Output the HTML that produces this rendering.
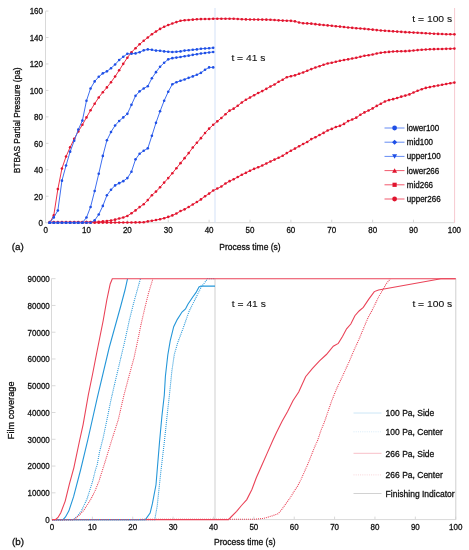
<!DOCTYPE html>
<html><head><meta charset="utf-8"><title>BTBAS partial pressure and film coverage</title>
<style>
html,body{margin:0;padding:0;background:#fff;}
body{width:469px;height:550px;overflow:hidden;}
svg{display:block;}
text{font-family:"Liberation Sans",Arial,sans-serif;fill:#111;stroke:#111;stroke-width:0.3px;}
.tk{font-size:8.7px;}
.tkb{font-size:9.2px;}
.lg{font-size:8.6px;}
.bl{font-size:9.1px;}
.ax{font-size:8.5px;}
.big{font-size:9.3px;stroke-width:0.1px;}
.big2{font-size:9.9px;stroke-width:0.3px;}
</style></head>
<body>
<svg width="469" height="550" viewBox="0 0 469 550">
<rect width="469" height="550" fill="#fff"/>
<line x1="45.5" y1="11.2" x2="45.5" y2="222.7" stroke="#d9d9d9" stroke-width="1"/>
<line x1="45.5" y1="222.7" x2="454.6" y2="222.7" stroke="#d9d9d9" stroke-width="1"/>
<line x1="45.5" y1="222.70" x2="48.5" y2="222.70" stroke="#d9d9d9" stroke-width="1"/>
<text x="43" y="226.10" class="tk" text-anchor="end" textLength="4.45" lengthAdjust="spacingAndGlyphs">0</text>
<line x1="45.5" y1="196.24" x2="48.5" y2="196.24" stroke="#d9d9d9" stroke-width="1"/>
<text x="43" y="199.64" class="tk" text-anchor="end" textLength="8.90" lengthAdjust="spacingAndGlyphs">20</text>
<line x1="45.5" y1="169.79" x2="48.5" y2="169.79" stroke="#d9d9d9" stroke-width="1"/>
<text x="43" y="173.19" class="tk" text-anchor="end" textLength="8.90" lengthAdjust="spacingAndGlyphs">40</text>
<line x1="45.5" y1="143.33" x2="48.5" y2="143.33" stroke="#d9d9d9" stroke-width="1"/>
<text x="43" y="146.73" class="tk" text-anchor="end" textLength="8.90" lengthAdjust="spacingAndGlyphs">60</text>
<line x1="45.5" y1="116.88" x2="48.5" y2="116.88" stroke="#d9d9d9" stroke-width="1"/>
<text x="43" y="120.28" class="tk" text-anchor="end" textLength="8.90" lengthAdjust="spacingAndGlyphs">80</text>
<line x1="45.5" y1="90.42" x2="48.5" y2="90.42" stroke="#d9d9d9" stroke-width="1"/>
<text x="43" y="93.82" class="tk" text-anchor="end" textLength="13.35" lengthAdjust="spacingAndGlyphs">100</text>
<line x1="45.5" y1="63.96" x2="48.5" y2="63.96" stroke="#d9d9d9" stroke-width="1"/>
<text x="43" y="67.36" class="tk" text-anchor="end" textLength="13.35" lengthAdjust="spacingAndGlyphs">120</text>
<line x1="45.5" y1="37.51" x2="48.5" y2="37.51" stroke="#d9d9d9" stroke-width="1"/>
<text x="43" y="40.91" class="tk" text-anchor="end" textLength="13.35" lengthAdjust="spacingAndGlyphs">140</text>
<line x1="45.5" y1="11.05" x2="48.5" y2="11.05" stroke="#d9d9d9" stroke-width="1"/>
<text x="43" y="14.45" class="tk" text-anchor="end" textLength="13.35" lengthAdjust="spacingAndGlyphs">160</text>
<line x1="45.60" y1="222.7" x2="45.60" y2="219.7" stroke="#d9d9d9" stroke-width="1"/>
<text x="45.60" y="232.8" class="tk" text-anchor="middle" textLength="4.45" lengthAdjust="spacingAndGlyphs">0</text>
<line x1="86.48" y1="222.7" x2="86.48" y2="219.7" stroke="#d9d9d9" stroke-width="1"/>
<text x="86.48" y="232.8" class="tk" text-anchor="middle" textLength="8.90" lengthAdjust="spacingAndGlyphs">10</text>
<line x1="127.36" y1="222.7" x2="127.36" y2="219.7" stroke="#d9d9d9" stroke-width="1"/>
<text x="127.36" y="232.8" class="tk" text-anchor="middle" textLength="8.90" lengthAdjust="spacingAndGlyphs">20</text>
<line x1="168.24" y1="222.7" x2="168.24" y2="219.7" stroke="#d9d9d9" stroke-width="1"/>
<text x="168.24" y="232.8" class="tk" text-anchor="middle" textLength="8.90" lengthAdjust="spacingAndGlyphs">30</text>
<line x1="209.12" y1="222.7" x2="209.12" y2="219.7" stroke="#d9d9d9" stroke-width="1"/>
<text x="209.12" y="232.8" class="tk" text-anchor="middle" textLength="8.90" lengthAdjust="spacingAndGlyphs">40</text>
<line x1="250.00" y1="222.7" x2="250.00" y2="219.7" stroke="#d9d9d9" stroke-width="1"/>
<text x="250.00" y="232.8" class="tk" text-anchor="middle" textLength="8.90" lengthAdjust="spacingAndGlyphs">50</text>
<line x1="290.88" y1="222.7" x2="290.88" y2="219.7" stroke="#d9d9d9" stroke-width="1"/>
<text x="290.88" y="232.8" class="tk" text-anchor="middle" textLength="8.90" lengthAdjust="spacingAndGlyphs">60</text>
<line x1="331.76" y1="222.7" x2="331.76" y2="219.7" stroke="#d9d9d9" stroke-width="1"/>
<text x="331.76" y="232.8" class="tk" text-anchor="middle" textLength="8.90" lengthAdjust="spacingAndGlyphs">70</text>
<line x1="372.64" y1="222.7" x2="372.64" y2="219.7" stroke="#d9d9d9" stroke-width="1"/>
<text x="372.64" y="232.8" class="tk" text-anchor="middle" textLength="8.90" lengthAdjust="spacingAndGlyphs">80</text>
<line x1="413.52" y1="222.7" x2="413.52" y2="219.7" stroke="#d9d9d9" stroke-width="1"/>
<text x="413.52" y="232.8" class="tk" text-anchor="middle" textLength="8.90" lengthAdjust="spacingAndGlyphs">90</text>
<line x1="454.40" y1="222.7" x2="454.40" y2="219.7" stroke="#d9d9d9" stroke-width="1"/>
<text x="454.40" y="232.8" class="tk" text-anchor="middle" textLength="13.35" lengthAdjust="spacingAndGlyphs">100</text>
<line x1="215" y1="8" x2="215" y2="222.7" stroke="#d3e1f7" stroke-width="1"/>
<line x1="454.6" y1="8" x2="454.6" y2="222.7" stroke="#f7c9d0" stroke-width="1"/>
<polyline points="49.69,222.70 53.78,222.70 57.86,222.70 61.95,222.70 66.04,222.70 70.13,222.69 74.22,222.69 78.30,222.68 82.39,222.68 86.48,222.67 90.57,222.66 94.66,222.65 98.74,222.63 102.83,222.62 106.92,222.60 111.01,222.58 115.10,222.55 119.18,222.53 123.27,222.50 127.36,222.47 131.45,222.43 135.54,222.39 139.62,222.35 143.71,222.30 147.80,221.38 151.89,220.72 155.98,220.05 160.06,219.26 164.15,218.20 168.24,216.88 172.33,215.42 176.42,213.57 180.50,211.06 184.59,209.34 188.68,206.96 192.77,204.45 196.86,202.06 200.94,199.42 205.03,196.24 209.12,193.60 213.21,190.56 217.30,188.57 221.38,186.46 225.47,183.55 229.56,181.16 233.65,179.31 237.74,177.06 241.82,174.81 245.91,172.83 250.00,170.71 254.09,168.86 258.18,167.27 262.26,165.56 266.35,163.44 270.44,161.45 274.53,159.60 278.62,157.75 282.70,155.77 286.79,153.12 290.88,150.74 294.97,148.62 299.06,146.24 303.14,143.99 307.23,142.01 311.32,139.10 315.41,137.25 319.50,135.00 323.58,132.88 327.67,130.50 331.76,128.91 335.85,127.06 339.94,125.87 344.02,123.89 348.11,121.11 352.20,119.52 356.29,117.67 360.38,114.76 364.46,112.38 368.55,110.53 372.64,108.41 376.73,105.90 380.82,103.78 384.90,101.53 388.99,100.08 393.08,99.15 397.17,97.96 401.26,96.64 405.34,95.58 409.43,94.39 413.52,92.54 417.61,90.82 421.70,89.23 425.78,87.91 429.87,87.11 433.96,86.32 438.05,85.53 442.14,84.73 446.22,83.94 450.31,83.28 454.40,82.62" fill="none" stroke="#ee3048" stroke-width="1"/>
<circle cx="49.69" cy="222.70" r="1.3" fill="#e0142e"/>
<circle cx="53.78" cy="222.70" r="1.3" fill="#e0142e"/>
<circle cx="57.86" cy="222.70" r="1.3" fill="#e0142e"/>
<circle cx="61.95" cy="222.70" r="1.3" fill="#e0142e"/>
<circle cx="66.04" cy="222.70" r="1.3" fill="#e0142e"/>
<circle cx="70.13" cy="222.69" r="1.3" fill="#e0142e"/>
<circle cx="74.22" cy="222.69" r="1.3" fill="#e0142e"/>
<circle cx="78.30" cy="222.68" r="1.3" fill="#e0142e"/>
<circle cx="82.39" cy="222.68" r="1.3" fill="#e0142e"/>
<circle cx="86.48" cy="222.67" r="1.3" fill="#e0142e"/>
<circle cx="90.57" cy="222.66" r="1.3" fill="#e0142e"/>
<circle cx="94.66" cy="222.65" r="1.3" fill="#e0142e"/>
<circle cx="98.74" cy="222.63" r="1.3" fill="#e0142e"/>
<circle cx="102.83" cy="222.62" r="1.3" fill="#e0142e"/>
<circle cx="106.92" cy="222.60" r="1.3" fill="#e0142e"/>
<circle cx="111.01" cy="222.58" r="1.3" fill="#e0142e"/>
<circle cx="115.10" cy="222.55" r="1.3" fill="#e0142e"/>
<circle cx="119.18" cy="222.53" r="1.3" fill="#e0142e"/>
<circle cx="123.27" cy="222.50" r="1.3" fill="#e0142e"/>
<circle cx="127.36" cy="222.47" r="1.3" fill="#e0142e"/>
<circle cx="131.45" cy="222.43" r="1.3" fill="#e0142e"/>
<circle cx="135.54" cy="222.39" r="1.3" fill="#e0142e"/>
<circle cx="139.62" cy="222.35" r="1.3" fill="#e0142e"/>
<circle cx="143.71" cy="222.30" r="1.3" fill="#e0142e"/>
<circle cx="147.80" cy="221.38" r="1.3" fill="#e0142e"/>
<circle cx="151.89" cy="220.72" r="1.3" fill="#e0142e"/>
<circle cx="155.98" cy="220.05" r="1.3" fill="#e0142e"/>
<circle cx="160.06" cy="219.26" r="1.3" fill="#e0142e"/>
<circle cx="164.15" cy="218.20" r="1.3" fill="#e0142e"/>
<circle cx="168.24" cy="216.88" r="1.3" fill="#e0142e"/>
<circle cx="172.33" cy="215.42" r="1.3" fill="#e0142e"/>
<circle cx="176.42" cy="213.57" r="1.3" fill="#e0142e"/>
<circle cx="180.50" cy="211.06" r="1.3" fill="#e0142e"/>
<circle cx="184.59" cy="209.34" r="1.3" fill="#e0142e"/>
<circle cx="188.68" cy="206.96" r="1.3" fill="#e0142e"/>
<circle cx="192.77" cy="204.45" r="1.3" fill="#e0142e"/>
<circle cx="196.86" cy="202.06" r="1.3" fill="#e0142e"/>
<circle cx="200.94" cy="199.42" r="1.3" fill="#e0142e"/>
<circle cx="205.03" cy="196.24" r="1.3" fill="#e0142e"/>
<circle cx="209.12" cy="193.60" r="1.3" fill="#e0142e"/>
<circle cx="213.21" cy="190.56" r="1.3" fill="#e0142e"/>
<circle cx="217.30" cy="188.57" r="1.3" fill="#e0142e"/>
<circle cx="221.38" cy="186.46" r="1.3" fill="#e0142e"/>
<circle cx="225.47" cy="183.55" r="1.3" fill="#e0142e"/>
<circle cx="229.56" cy="181.16" r="1.3" fill="#e0142e"/>
<circle cx="233.65" cy="179.31" r="1.3" fill="#e0142e"/>
<circle cx="237.74" cy="177.06" r="1.3" fill="#e0142e"/>
<circle cx="241.82" cy="174.81" r="1.3" fill="#e0142e"/>
<circle cx="245.91" cy="172.83" r="1.3" fill="#e0142e"/>
<circle cx="250.00" cy="170.71" r="1.3" fill="#e0142e"/>
<circle cx="254.09" cy="168.86" r="1.3" fill="#e0142e"/>
<circle cx="258.18" cy="167.27" r="1.3" fill="#e0142e"/>
<circle cx="262.26" cy="165.56" r="1.3" fill="#e0142e"/>
<circle cx="266.35" cy="163.44" r="1.3" fill="#e0142e"/>
<circle cx="270.44" cy="161.45" r="1.3" fill="#e0142e"/>
<circle cx="274.53" cy="159.60" r="1.3" fill="#e0142e"/>
<circle cx="278.62" cy="157.75" r="1.3" fill="#e0142e"/>
<circle cx="282.70" cy="155.77" r="1.3" fill="#e0142e"/>
<circle cx="286.79" cy="153.12" r="1.3" fill="#e0142e"/>
<circle cx="290.88" cy="150.74" r="1.3" fill="#e0142e"/>
<circle cx="294.97" cy="148.62" r="1.3" fill="#e0142e"/>
<circle cx="299.06" cy="146.24" r="1.3" fill="#e0142e"/>
<circle cx="303.14" cy="143.99" r="1.3" fill="#e0142e"/>
<circle cx="307.23" cy="142.01" r="1.3" fill="#e0142e"/>
<circle cx="311.32" cy="139.10" r="1.3" fill="#e0142e"/>
<circle cx="315.41" cy="137.25" r="1.3" fill="#e0142e"/>
<circle cx="319.50" cy="135.00" r="1.3" fill="#e0142e"/>
<circle cx="323.58" cy="132.88" r="1.3" fill="#e0142e"/>
<circle cx="327.67" cy="130.50" r="1.3" fill="#e0142e"/>
<circle cx="331.76" cy="128.91" r="1.3" fill="#e0142e"/>
<circle cx="335.85" cy="127.06" r="1.3" fill="#e0142e"/>
<circle cx="339.94" cy="125.87" r="1.3" fill="#e0142e"/>
<circle cx="344.02" cy="123.89" r="1.3" fill="#e0142e"/>
<circle cx="348.11" cy="121.11" r="1.3" fill="#e0142e"/>
<circle cx="352.20" cy="119.52" r="1.3" fill="#e0142e"/>
<circle cx="356.29" cy="117.67" r="1.3" fill="#e0142e"/>
<circle cx="360.38" cy="114.76" r="1.3" fill="#e0142e"/>
<circle cx="364.46" cy="112.38" r="1.3" fill="#e0142e"/>
<circle cx="368.55" cy="110.53" r="1.3" fill="#e0142e"/>
<circle cx="372.64" cy="108.41" r="1.3" fill="#e0142e"/>
<circle cx="376.73" cy="105.90" r="1.3" fill="#e0142e"/>
<circle cx="380.82" cy="103.78" r="1.3" fill="#e0142e"/>
<circle cx="384.90" cy="101.53" r="1.3" fill="#e0142e"/>
<circle cx="388.99" cy="100.08" r="1.3" fill="#e0142e"/>
<circle cx="393.08" cy="99.15" r="1.3" fill="#e0142e"/>
<circle cx="397.17" cy="97.96" r="1.3" fill="#e0142e"/>
<circle cx="401.26" cy="96.64" r="1.3" fill="#e0142e"/>
<circle cx="405.34" cy="95.58" r="1.3" fill="#e0142e"/>
<circle cx="409.43" cy="94.39" r="1.3" fill="#e0142e"/>
<circle cx="413.52" cy="92.54" r="1.3" fill="#e0142e"/>
<circle cx="417.61" cy="90.82" r="1.3" fill="#e0142e"/>
<circle cx="421.70" cy="89.23" r="1.3" fill="#e0142e"/>
<circle cx="425.78" cy="87.91" r="1.3" fill="#e0142e"/>
<circle cx="429.87" cy="87.11" r="1.3" fill="#e0142e"/>
<circle cx="433.96" cy="86.32" r="1.3" fill="#e0142e"/>
<circle cx="438.05" cy="85.53" r="1.3" fill="#e0142e"/>
<circle cx="442.14" cy="84.73" r="1.3" fill="#e0142e"/>
<circle cx="446.22" cy="83.94" r="1.3" fill="#e0142e"/>
<circle cx="450.31" cy="83.28" r="1.3" fill="#e0142e"/>
<circle cx="454.40" cy="82.62" r="1.3" fill="#e0142e"/>
<polyline points="49.69,222.04 53.78,222.04 57.86,222.04 61.95,222.03 66.04,222.03 70.13,222.02 74.22,222.02 78.30,222.01 82.39,221.99 86.48,221.98 90.57,221.96 94.66,221.93 98.74,221.91 102.83,221.38 106.92,220.98 111.01,220.45 115.10,219.66 119.18,218.47 123.27,217.54 127.36,215.95 131.45,213.18 135.54,210.40 139.62,207.09 143.71,204.18 147.80,200.08 151.89,195.19 155.98,191.61 160.06,187.25 164.15,182.62 168.24,178.12 172.33,173.23 176.42,168.20 180.50,163.17 184.59,158.15 188.68,153.12 192.77,147.56 196.86,142.80 200.94,138.17 205.03,133.01 209.12,128.65 213.21,124.81 217.30,121.37 221.38,117.93 225.47,114.23 229.56,110.66 233.65,108.67 237.74,105.76 241.82,102.46 245.91,99.81 250.00,97.56 254.09,95.18 258.18,93.07 262.26,91.08 266.35,88.83 270.44,86.45 274.53,84.47 278.62,81.82 282.70,79.71 286.79,77.19 290.88,76.27 294.97,75.34 299.06,73.75 303.14,72.43 307.23,70.71 311.32,69.12 315.41,67.54 319.50,66.21 323.58,64.76 327.67,63.43 331.76,62.77 335.85,61.72 339.94,60.79 344.02,60.00 348.11,59.33 352.20,58.54 356.29,57.75 360.38,56.69 364.46,55.76 368.55,55.23 372.64,54.57 376.73,53.50 380.82,52.69 384.90,52.28 388.99,51.90 393.08,51.51 397.17,51.35 401.26,51.29 405.34,51.16 409.43,50.92 413.52,50.56 417.61,50.11 421.70,49.80 425.78,49.55 429.87,49.29 433.96,49.13 438.05,49.07 442.14,48.98 446.22,48.83 450.31,48.71 454.40,48.62" fill="none" stroke="#ee3048" stroke-width="1"/>
<circle cx="49.69" cy="222.04" r="1.3" fill="#e0142e"/>
<circle cx="53.78" cy="222.04" r="1.3" fill="#e0142e"/>
<circle cx="57.86" cy="222.04" r="1.3" fill="#e0142e"/>
<circle cx="61.95" cy="222.03" r="1.3" fill="#e0142e"/>
<circle cx="66.04" cy="222.03" r="1.3" fill="#e0142e"/>
<circle cx="70.13" cy="222.02" r="1.3" fill="#e0142e"/>
<circle cx="74.22" cy="222.02" r="1.3" fill="#e0142e"/>
<circle cx="78.30" cy="222.01" r="1.3" fill="#e0142e"/>
<circle cx="82.39" cy="221.99" r="1.3" fill="#e0142e"/>
<circle cx="86.48" cy="221.98" r="1.3" fill="#e0142e"/>
<circle cx="90.57" cy="221.96" r="1.3" fill="#e0142e"/>
<circle cx="94.66" cy="221.93" r="1.3" fill="#e0142e"/>
<circle cx="98.74" cy="221.91" r="1.3" fill="#e0142e"/>
<circle cx="102.83" cy="221.38" r="1.3" fill="#e0142e"/>
<circle cx="106.92" cy="220.98" r="1.3" fill="#e0142e"/>
<circle cx="111.01" cy="220.45" r="1.3" fill="#e0142e"/>
<circle cx="115.10" cy="219.66" r="1.3" fill="#e0142e"/>
<circle cx="119.18" cy="218.47" r="1.3" fill="#e0142e"/>
<circle cx="123.27" cy="217.54" r="1.3" fill="#e0142e"/>
<circle cx="127.36" cy="215.95" r="1.3" fill="#e0142e"/>
<circle cx="131.45" cy="213.18" r="1.3" fill="#e0142e"/>
<circle cx="135.54" cy="210.40" r="1.3" fill="#e0142e"/>
<circle cx="139.62" cy="207.09" r="1.3" fill="#e0142e"/>
<circle cx="143.71" cy="204.18" r="1.3" fill="#e0142e"/>
<circle cx="147.80" cy="200.08" r="1.3" fill="#e0142e"/>
<circle cx="151.89" cy="195.19" r="1.3" fill="#e0142e"/>
<circle cx="155.98" cy="191.61" r="1.3" fill="#e0142e"/>
<circle cx="160.06" cy="187.25" r="1.3" fill="#e0142e"/>
<circle cx="164.15" cy="182.62" r="1.3" fill="#e0142e"/>
<circle cx="168.24" cy="178.12" r="1.3" fill="#e0142e"/>
<circle cx="172.33" cy="173.23" r="1.3" fill="#e0142e"/>
<circle cx="176.42" cy="168.20" r="1.3" fill="#e0142e"/>
<circle cx="180.50" cy="163.17" r="1.3" fill="#e0142e"/>
<circle cx="184.59" cy="158.15" r="1.3" fill="#e0142e"/>
<circle cx="188.68" cy="153.12" r="1.3" fill="#e0142e"/>
<circle cx="192.77" cy="147.56" r="1.3" fill="#e0142e"/>
<circle cx="196.86" cy="142.80" r="1.3" fill="#e0142e"/>
<circle cx="200.94" cy="138.17" r="1.3" fill="#e0142e"/>
<circle cx="205.03" cy="133.01" r="1.3" fill="#e0142e"/>
<circle cx="209.12" cy="128.65" r="1.3" fill="#e0142e"/>
<circle cx="213.21" cy="124.81" r="1.3" fill="#e0142e"/>
<circle cx="217.30" cy="121.37" r="1.3" fill="#e0142e"/>
<circle cx="221.38" cy="117.93" r="1.3" fill="#e0142e"/>
<circle cx="225.47" cy="114.23" r="1.3" fill="#e0142e"/>
<circle cx="229.56" cy="110.66" r="1.3" fill="#e0142e"/>
<circle cx="233.65" cy="108.67" r="1.3" fill="#e0142e"/>
<circle cx="237.74" cy="105.76" r="1.3" fill="#e0142e"/>
<circle cx="241.82" cy="102.46" r="1.3" fill="#e0142e"/>
<circle cx="245.91" cy="99.81" r="1.3" fill="#e0142e"/>
<circle cx="250.00" cy="97.56" r="1.3" fill="#e0142e"/>
<circle cx="254.09" cy="95.18" r="1.3" fill="#e0142e"/>
<circle cx="258.18" cy="93.07" r="1.3" fill="#e0142e"/>
<circle cx="262.26" cy="91.08" r="1.3" fill="#e0142e"/>
<circle cx="266.35" cy="88.83" r="1.3" fill="#e0142e"/>
<circle cx="270.44" cy="86.45" r="1.3" fill="#e0142e"/>
<circle cx="274.53" cy="84.47" r="1.3" fill="#e0142e"/>
<circle cx="278.62" cy="81.82" r="1.3" fill="#e0142e"/>
<circle cx="282.70" cy="79.71" r="1.3" fill="#e0142e"/>
<circle cx="286.79" cy="77.19" r="1.3" fill="#e0142e"/>
<circle cx="290.88" cy="76.27" r="1.3" fill="#e0142e"/>
<circle cx="294.97" cy="75.34" r="1.3" fill="#e0142e"/>
<circle cx="299.06" cy="73.75" r="1.3" fill="#e0142e"/>
<circle cx="303.14" cy="72.43" r="1.3" fill="#e0142e"/>
<circle cx="307.23" cy="70.71" r="1.3" fill="#e0142e"/>
<circle cx="311.32" cy="69.12" r="1.3" fill="#e0142e"/>
<circle cx="315.41" cy="67.54" r="1.3" fill="#e0142e"/>
<circle cx="319.50" cy="66.21" r="1.3" fill="#e0142e"/>
<circle cx="323.58" cy="64.76" r="1.3" fill="#e0142e"/>
<circle cx="327.67" cy="63.43" r="1.3" fill="#e0142e"/>
<circle cx="331.76" cy="62.77" r="1.3" fill="#e0142e"/>
<circle cx="335.85" cy="61.72" r="1.3" fill="#e0142e"/>
<circle cx="339.94" cy="60.79" r="1.3" fill="#e0142e"/>
<circle cx="344.02" cy="60.00" r="1.3" fill="#e0142e"/>
<circle cx="348.11" cy="59.33" r="1.3" fill="#e0142e"/>
<circle cx="352.20" cy="58.54" r="1.3" fill="#e0142e"/>
<circle cx="356.29" cy="57.75" r="1.3" fill="#e0142e"/>
<circle cx="360.38" cy="56.69" r="1.3" fill="#e0142e"/>
<circle cx="364.46" cy="55.76" r="1.3" fill="#e0142e"/>
<circle cx="368.55" cy="55.23" r="1.3" fill="#e0142e"/>
<circle cx="372.64" cy="54.57" r="1.3" fill="#e0142e"/>
<circle cx="376.73" cy="53.50" r="1.3" fill="#e0142e"/>
<circle cx="380.82" cy="52.69" r="1.3" fill="#e0142e"/>
<circle cx="384.90" cy="52.28" r="1.3" fill="#e0142e"/>
<circle cx="388.99" cy="51.90" r="1.3" fill="#e0142e"/>
<circle cx="393.08" cy="51.51" r="1.3" fill="#e0142e"/>
<circle cx="397.17" cy="51.35" r="1.3" fill="#e0142e"/>
<circle cx="401.26" cy="51.29" r="1.3" fill="#e0142e"/>
<circle cx="405.34" cy="51.16" r="1.3" fill="#e0142e"/>
<circle cx="409.43" cy="50.92" r="1.3" fill="#e0142e"/>
<circle cx="413.52" cy="50.56" r="1.3" fill="#e0142e"/>
<circle cx="417.61" cy="50.11" r="1.3" fill="#e0142e"/>
<circle cx="421.70" cy="49.80" r="1.3" fill="#e0142e"/>
<circle cx="425.78" cy="49.55" r="1.3" fill="#e0142e"/>
<circle cx="429.87" cy="49.29" r="1.3" fill="#e0142e"/>
<circle cx="433.96" cy="49.13" r="1.3" fill="#e0142e"/>
<circle cx="438.05" cy="49.07" r="1.3" fill="#e0142e"/>
<circle cx="442.14" cy="48.98" r="1.3" fill="#e0142e"/>
<circle cx="446.22" cy="48.83" r="1.3" fill="#e0142e"/>
<circle cx="450.31" cy="48.71" r="1.3" fill="#e0142e"/>
<circle cx="454.40" cy="48.62" r="1.3" fill="#e0142e"/>
<polyline points="49.69,222.70 53.78,215.42 57.86,189.10 61.95,168.47 66.04,156.56 70.13,147.30 74.22,138.83 78.30,131.43 82.39,124.81 86.48,117.41 90.57,110.26 94.66,103.78 98.74,97.43 102.83,92.27 106.92,87.38 111.01,82.22 115.10,76.53 119.18,70.31 123.27,63.83 127.36,57.75 131.45,52.19 135.54,48.22 139.62,44.25 143.71,40.81 147.80,37.51 151.89,34.20 155.98,31.56 160.06,28.91 164.15,26.79 168.24,25.05 172.33,23.52 176.42,22.10 180.50,20.82 184.59,20.23 188.68,19.95 192.77,19.64 196.86,19.28 200.94,19.09 205.03,19.04 209.12,18.97 213.21,18.81 217.30,18.72 221.38,18.72 225.47,18.72 229.56,18.72 233.65,18.80 237.74,18.98 241.82,19.20 245.91,19.40 250.00,19.52 254.09,19.56 258.18,19.58 262.26,19.61 266.35,19.65 270.44,19.80 274.53,20.06 278.62,20.35 282.70,20.58 286.79,20.69 290.88,20.84 294.97,21.36 299.06,22.50 303.14,23.21 307.23,23.38 311.32,23.67 315.41,24.16 319.50,24.63 323.58,25.02 327.67,25.39 331.76,25.79 335.85,26.19 339.94,26.62 344.02,27.07 348.11,27.49 352.20,27.85 356.29,28.18 360.38,28.51 364.46,28.83 368.55,29.20 372.64,29.64 376.73,30.08 380.82,30.44 384.90,30.76 388.99,31.06 393.08,31.34 397.17,31.61 401.26,31.87 405.34,32.13 409.43,32.37 413.52,32.59 417.61,32.80 421.70,33.01 425.78,33.21 429.87,33.43 433.96,33.68 438.05,33.90 442.14,34.07 446.22,34.19 450.31,34.28 454.40,34.33" fill="none" stroke="#ee3048" stroke-width="1"/>
<circle cx="49.69" cy="222.70" r="1.3" fill="#e0142e"/>
<circle cx="53.78" cy="215.42" r="1.3" fill="#e0142e"/>
<circle cx="57.86" cy="189.10" r="1.3" fill="#e0142e"/>
<circle cx="61.95" cy="168.47" r="1.3" fill="#e0142e"/>
<circle cx="66.04" cy="156.56" r="1.3" fill="#e0142e"/>
<circle cx="70.13" cy="147.30" r="1.3" fill="#e0142e"/>
<circle cx="74.22" cy="138.83" r="1.3" fill="#e0142e"/>
<circle cx="78.30" cy="131.43" r="1.3" fill="#e0142e"/>
<circle cx="82.39" cy="124.81" r="1.3" fill="#e0142e"/>
<circle cx="86.48" cy="117.41" r="1.3" fill="#e0142e"/>
<circle cx="90.57" cy="110.26" r="1.3" fill="#e0142e"/>
<circle cx="94.66" cy="103.78" r="1.3" fill="#e0142e"/>
<circle cx="98.74" cy="97.43" r="1.3" fill="#e0142e"/>
<circle cx="102.83" cy="92.27" r="1.3" fill="#e0142e"/>
<circle cx="106.92" cy="87.38" r="1.3" fill="#e0142e"/>
<circle cx="111.01" cy="82.22" r="1.3" fill="#e0142e"/>
<circle cx="115.10" cy="76.53" r="1.3" fill="#e0142e"/>
<circle cx="119.18" cy="70.31" r="1.3" fill="#e0142e"/>
<circle cx="123.27" cy="63.83" r="1.3" fill="#e0142e"/>
<circle cx="127.36" cy="57.75" r="1.3" fill="#e0142e"/>
<circle cx="131.45" cy="52.19" r="1.3" fill="#e0142e"/>
<circle cx="135.54" cy="48.22" r="1.3" fill="#e0142e"/>
<circle cx="139.62" cy="44.25" r="1.3" fill="#e0142e"/>
<circle cx="143.71" cy="40.81" r="1.3" fill="#e0142e"/>
<circle cx="147.80" cy="37.51" r="1.3" fill="#e0142e"/>
<circle cx="151.89" cy="34.20" r="1.3" fill="#e0142e"/>
<circle cx="155.98" cy="31.56" r="1.3" fill="#e0142e"/>
<circle cx="160.06" cy="28.91" r="1.3" fill="#e0142e"/>
<circle cx="164.15" cy="26.79" r="1.3" fill="#e0142e"/>
<circle cx="168.24" cy="25.05" r="1.3" fill="#e0142e"/>
<circle cx="172.33" cy="23.52" r="1.3" fill="#e0142e"/>
<circle cx="176.42" cy="22.10" r="1.3" fill="#e0142e"/>
<circle cx="180.50" cy="20.82" r="1.3" fill="#e0142e"/>
<circle cx="184.59" cy="20.23" r="1.3" fill="#e0142e"/>
<circle cx="188.68" cy="19.95" r="1.3" fill="#e0142e"/>
<circle cx="192.77" cy="19.64" r="1.3" fill="#e0142e"/>
<circle cx="196.86" cy="19.28" r="1.3" fill="#e0142e"/>
<circle cx="200.94" cy="19.09" r="1.3" fill="#e0142e"/>
<circle cx="205.03" cy="19.04" r="1.3" fill="#e0142e"/>
<circle cx="209.12" cy="18.97" r="1.3" fill="#e0142e"/>
<circle cx="213.21" cy="18.81" r="1.3" fill="#e0142e"/>
<circle cx="217.30" cy="18.72" r="1.3" fill="#e0142e"/>
<circle cx="221.38" cy="18.72" r="1.3" fill="#e0142e"/>
<circle cx="225.47" cy="18.72" r="1.3" fill="#e0142e"/>
<circle cx="229.56" cy="18.72" r="1.3" fill="#e0142e"/>
<circle cx="233.65" cy="18.80" r="1.3" fill="#e0142e"/>
<circle cx="237.74" cy="18.98" r="1.3" fill="#e0142e"/>
<circle cx="241.82" cy="19.20" r="1.3" fill="#e0142e"/>
<circle cx="245.91" cy="19.40" r="1.3" fill="#e0142e"/>
<circle cx="250.00" cy="19.52" r="1.3" fill="#e0142e"/>
<circle cx="254.09" cy="19.56" r="1.3" fill="#e0142e"/>
<circle cx="258.18" cy="19.58" r="1.3" fill="#e0142e"/>
<circle cx="262.26" cy="19.61" r="1.3" fill="#e0142e"/>
<circle cx="266.35" cy="19.65" r="1.3" fill="#e0142e"/>
<circle cx="270.44" cy="19.80" r="1.3" fill="#e0142e"/>
<circle cx="274.53" cy="20.06" r="1.3" fill="#e0142e"/>
<circle cx="278.62" cy="20.35" r="1.3" fill="#e0142e"/>
<circle cx="282.70" cy="20.58" r="1.3" fill="#e0142e"/>
<circle cx="286.79" cy="20.69" r="1.3" fill="#e0142e"/>
<circle cx="290.88" cy="20.84" r="1.3" fill="#e0142e"/>
<circle cx="294.97" cy="21.36" r="1.3" fill="#e0142e"/>
<circle cx="299.06" cy="22.50" r="1.3" fill="#e0142e"/>
<circle cx="303.14" cy="23.21" r="1.3" fill="#e0142e"/>
<circle cx="307.23" cy="23.38" r="1.3" fill="#e0142e"/>
<circle cx="311.32" cy="23.67" r="1.3" fill="#e0142e"/>
<circle cx="315.41" cy="24.16" r="1.3" fill="#e0142e"/>
<circle cx="319.50" cy="24.63" r="1.3" fill="#e0142e"/>
<circle cx="323.58" cy="25.02" r="1.3" fill="#e0142e"/>
<circle cx="327.67" cy="25.39" r="1.3" fill="#e0142e"/>
<circle cx="331.76" cy="25.79" r="1.3" fill="#e0142e"/>
<circle cx="335.85" cy="26.19" r="1.3" fill="#e0142e"/>
<circle cx="339.94" cy="26.62" r="1.3" fill="#e0142e"/>
<circle cx="344.02" cy="27.07" r="1.3" fill="#e0142e"/>
<circle cx="348.11" cy="27.49" r="1.3" fill="#e0142e"/>
<circle cx="352.20" cy="27.85" r="1.3" fill="#e0142e"/>
<circle cx="356.29" cy="28.18" r="1.3" fill="#e0142e"/>
<circle cx="360.38" cy="28.51" r="1.3" fill="#e0142e"/>
<circle cx="364.46" cy="28.83" r="1.3" fill="#e0142e"/>
<circle cx="368.55" cy="29.20" r="1.3" fill="#e0142e"/>
<circle cx="372.64" cy="29.64" r="1.3" fill="#e0142e"/>
<circle cx="376.73" cy="30.08" r="1.3" fill="#e0142e"/>
<circle cx="380.82" cy="30.44" r="1.3" fill="#e0142e"/>
<circle cx="384.90" cy="30.76" r="1.3" fill="#e0142e"/>
<circle cx="388.99" cy="31.06" r="1.3" fill="#e0142e"/>
<circle cx="393.08" cy="31.34" r="1.3" fill="#e0142e"/>
<circle cx="397.17" cy="31.61" r="1.3" fill="#e0142e"/>
<circle cx="401.26" cy="31.87" r="1.3" fill="#e0142e"/>
<circle cx="405.34" cy="32.13" r="1.3" fill="#e0142e"/>
<circle cx="409.43" cy="32.37" r="1.3" fill="#e0142e"/>
<circle cx="413.52" cy="32.59" r="1.3" fill="#e0142e"/>
<circle cx="417.61" cy="32.80" r="1.3" fill="#e0142e"/>
<circle cx="421.70" cy="33.01" r="1.3" fill="#e0142e"/>
<circle cx="425.78" cy="33.21" r="1.3" fill="#e0142e"/>
<circle cx="429.87" cy="33.43" r="1.3" fill="#e0142e"/>
<circle cx="433.96" cy="33.68" r="1.3" fill="#e0142e"/>
<circle cx="438.05" cy="33.90" r="1.3" fill="#e0142e"/>
<circle cx="442.14" cy="34.07" r="1.3" fill="#e0142e"/>
<circle cx="446.22" cy="34.19" r="1.3" fill="#e0142e"/>
<circle cx="450.31" cy="34.28" r="1.3" fill="#e0142e"/>
<circle cx="454.40" cy="34.33" r="1.3" fill="#e0142e"/>
<polyline points="49.69,222.70 53.78,222.70 57.86,222.70 61.95,222.70 66.04,222.70 70.13,222.70 74.22,222.70 78.30,222.70 82.39,222.70 86.48,222.70 90.57,222.70 94.66,220.32 98.74,214.50 102.83,205.90 106.92,195.32 111.01,189.76 115.10,185.40 119.18,183.15 123.27,181.16 127.36,178.12 131.45,171.77 135.54,159.34 139.62,153.78 143.71,150.74 147.80,148.36 151.89,135.79 155.98,122.83 160.06,111.32 164.15,100.74 168.24,91.74 172.33,84.20 176.42,82.22 180.50,80.76 184.59,79.44 188.68,77.85 192.77,76.40 196.86,74.81 200.94,72.83 205.03,69.78 209.12,67.40 213.21,67.40" fill="none" stroke="#3f6ff0" stroke-width="1"/>
<circle cx="49.69" cy="222.70" r="1.3" fill="#1f4fe6"/>
<circle cx="53.78" cy="222.70" r="1.3" fill="#1f4fe6"/>
<circle cx="57.86" cy="222.70" r="1.3" fill="#1f4fe6"/>
<circle cx="61.95" cy="222.70" r="1.3" fill="#1f4fe6"/>
<circle cx="66.04" cy="222.70" r="1.3" fill="#1f4fe6"/>
<circle cx="70.13" cy="222.70" r="1.3" fill="#1f4fe6"/>
<circle cx="74.22" cy="222.70" r="1.3" fill="#1f4fe6"/>
<circle cx="78.30" cy="222.70" r="1.3" fill="#1f4fe6"/>
<circle cx="82.39" cy="222.70" r="1.3" fill="#1f4fe6"/>
<circle cx="86.48" cy="222.70" r="1.3" fill="#1f4fe6"/>
<circle cx="90.57" cy="222.70" r="1.3" fill="#1f4fe6"/>
<circle cx="94.66" cy="220.32" r="1.3" fill="#1f4fe6"/>
<circle cx="98.74" cy="214.50" r="1.3" fill="#1f4fe6"/>
<circle cx="102.83" cy="205.90" r="1.3" fill="#1f4fe6"/>
<circle cx="106.92" cy="195.32" r="1.3" fill="#1f4fe6"/>
<circle cx="111.01" cy="189.76" r="1.3" fill="#1f4fe6"/>
<circle cx="115.10" cy="185.40" r="1.3" fill="#1f4fe6"/>
<circle cx="119.18" cy="183.15" r="1.3" fill="#1f4fe6"/>
<circle cx="123.27" cy="181.16" r="1.3" fill="#1f4fe6"/>
<circle cx="127.36" cy="178.12" r="1.3" fill="#1f4fe6"/>
<circle cx="131.45" cy="171.77" r="1.3" fill="#1f4fe6"/>
<circle cx="135.54" cy="159.34" r="1.3" fill="#1f4fe6"/>
<circle cx="139.62" cy="153.78" r="1.3" fill="#1f4fe6"/>
<circle cx="143.71" cy="150.74" r="1.3" fill="#1f4fe6"/>
<circle cx="147.80" cy="148.36" r="1.3" fill="#1f4fe6"/>
<circle cx="151.89" cy="135.79" r="1.3" fill="#1f4fe6"/>
<circle cx="155.98" cy="122.83" r="1.3" fill="#1f4fe6"/>
<circle cx="160.06" cy="111.32" r="1.3" fill="#1f4fe6"/>
<circle cx="164.15" cy="100.74" r="1.3" fill="#1f4fe6"/>
<circle cx="168.24" cy="91.74" r="1.3" fill="#1f4fe6"/>
<circle cx="172.33" cy="84.20" r="1.3" fill="#1f4fe6"/>
<circle cx="176.42" cy="82.22" r="1.3" fill="#1f4fe6"/>
<circle cx="180.50" cy="80.76" r="1.3" fill="#1f4fe6"/>
<circle cx="184.59" cy="79.44" r="1.3" fill="#1f4fe6"/>
<circle cx="188.68" cy="77.85" r="1.3" fill="#1f4fe6"/>
<circle cx="192.77" cy="76.40" r="1.3" fill="#1f4fe6"/>
<circle cx="196.86" cy="74.81" r="1.3" fill="#1f4fe6"/>
<circle cx="200.94" cy="72.83" r="1.3" fill="#1f4fe6"/>
<circle cx="205.03" cy="69.78" r="1.3" fill="#1f4fe6"/>
<circle cx="209.12" cy="67.40" r="1.3" fill="#1f4fe6"/>
<circle cx="213.21" cy="67.40" r="1.3" fill="#1f4fe6"/>
<polyline points="49.69,222.70 53.78,222.70 57.86,222.70 61.95,222.70 66.04,222.70 70.13,222.70 74.22,222.70 78.30,222.70 82.39,222.70 86.48,217.54 90.57,206.96 94.66,190.95 98.74,173.76 102.83,155.90 106.92,140.29 111.01,131.96 115.10,125.47 119.18,120.98 123.27,117.41 127.36,113.83 131.45,104.84 135.54,95.84 139.62,91.35 143.71,88.44 147.80,86.19 151.89,78.25 155.98,72.17 160.06,66.74 164.15,62.77 168.24,59.33 172.33,58.14 176.42,57.61 180.50,56.95 184.59,56.29 188.68,55.63 192.77,54.84 196.86,54.18 200.94,53.51 205.03,52.98 209.12,52.46 213.21,51.93" fill="none" stroke="#3f6ff0" stroke-width="1"/>
<circle cx="49.69" cy="222.70" r="1.3" fill="#1f4fe6"/>
<circle cx="53.78" cy="222.70" r="1.3" fill="#1f4fe6"/>
<circle cx="57.86" cy="222.70" r="1.3" fill="#1f4fe6"/>
<circle cx="61.95" cy="222.70" r="1.3" fill="#1f4fe6"/>
<circle cx="66.04" cy="222.70" r="1.3" fill="#1f4fe6"/>
<circle cx="70.13" cy="222.70" r="1.3" fill="#1f4fe6"/>
<circle cx="74.22" cy="222.70" r="1.3" fill="#1f4fe6"/>
<circle cx="78.30" cy="222.70" r="1.3" fill="#1f4fe6"/>
<circle cx="82.39" cy="222.70" r="1.3" fill="#1f4fe6"/>
<circle cx="86.48" cy="217.54" r="1.3" fill="#1f4fe6"/>
<circle cx="90.57" cy="206.96" r="1.3" fill="#1f4fe6"/>
<circle cx="94.66" cy="190.95" r="1.3" fill="#1f4fe6"/>
<circle cx="98.74" cy="173.76" r="1.3" fill="#1f4fe6"/>
<circle cx="102.83" cy="155.90" r="1.3" fill="#1f4fe6"/>
<circle cx="106.92" cy="140.29" r="1.3" fill="#1f4fe6"/>
<circle cx="111.01" cy="131.96" r="1.3" fill="#1f4fe6"/>
<circle cx="115.10" cy="125.47" r="1.3" fill="#1f4fe6"/>
<circle cx="119.18" cy="120.98" r="1.3" fill="#1f4fe6"/>
<circle cx="123.27" cy="117.41" r="1.3" fill="#1f4fe6"/>
<circle cx="127.36" cy="113.83" r="1.3" fill="#1f4fe6"/>
<circle cx="131.45" cy="104.84" r="1.3" fill="#1f4fe6"/>
<circle cx="135.54" cy="95.84" r="1.3" fill="#1f4fe6"/>
<circle cx="139.62" cy="91.35" r="1.3" fill="#1f4fe6"/>
<circle cx="143.71" cy="88.44" r="1.3" fill="#1f4fe6"/>
<circle cx="147.80" cy="86.19" r="1.3" fill="#1f4fe6"/>
<circle cx="151.89" cy="78.25" r="1.3" fill="#1f4fe6"/>
<circle cx="155.98" cy="72.17" r="1.3" fill="#1f4fe6"/>
<circle cx="160.06" cy="66.74" r="1.3" fill="#1f4fe6"/>
<circle cx="164.15" cy="62.77" r="1.3" fill="#1f4fe6"/>
<circle cx="168.24" cy="59.33" r="1.3" fill="#1f4fe6"/>
<circle cx="172.33" cy="58.14" r="1.3" fill="#1f4fe6"/>
<circle cx="176.42" cy="57.61" r="1.3" fill="#1f4fe6"/>
<circle cx="180.50" cy="56.95" r="1.3" fill="#1f4fe6"/>
<circle cx="184.59" cy="56.29" r="1.3" fill="#1f4fe6"/>
<circle cx="188.68" cy="55.63" r="1.3" fill="#1f4fe6"/>
<circle cx="192.77" cy="54.84" r="1.3" fill="#1f4fe6"/>
<circle cx="196.86" cy="54.18" r="1.3" fill="#1f4fe6"/>
<circle cx="200.94" cy="53.51" r="1.3" fill="#1f4fe6"/>
<circle cx="205.03" cy="52.98" r="1.3" fill="#1f4fe6"/>
<circle cx="209.12" cy="52.46" r="1.3" fill="#1f4fe6"/>
<circle cx="213.21" cy="51.93" r="1.3" fill="#1f4fe6"/>
<polyline points="49.69,222.70 53.78,217.41 57.86,210.53 61.95,180.63 66.04,165.56 70.13,151.67 74.22,140.69 78.30,129.57 82.39,120.58 86.48,100.74 90.57,88.44 94.66,81.42 98.74,76.80 102.83,73.36 106.92,71.37 111.01,68.20 115.10,64.49 119.18,60.00 123.27,56.82 127.36,53.78 131.45,53.78 135.54,53.38 139.62,52.19 143.71,50.34 147.80,49.41 151.89,49.81 155.98,50.60 160.06,50.74 164.15,51.40 168.24,51.79 172.33,52.06 176.42,51.79 180.50,51.40 184.59,50.60 188.68,50.21 192.77,49.81 196.86,49.41 200.94,48.75 205.03,48.49 209.12,48.22 213.21,47.83" fill="none" stroke="#3f6ff0" stroke-width="1"/>
<circle cx="49.69" cy="222.70" r="1.3" fill="#1f4fe6"/>
<circle cx="53.78" cy="217.41" r="1.3" fill="#1f4fe6"/>
<circle cx="57.86" cy="210.53" r="1.3" fill="#1f4fe6"/>
<circle cx="61.95" cy="180.63" r="1.3" fill="#1f4fe6"/>
<circle cx="66.04" cy="165.56" r="1.3" fill="#1f4fe6"/>
<circle cx="70.13" cy="151.67" r="1.3" fill="#1f4fe6"/>
<circle cx="74.22" cy="140.69" r="1.3" fill="#1f4fe6"/>
<circle cx="78.30" cy="129.57" r="1.3" fill="#1f4fe6"/>
<circle cx="82.39" cy="120.58" r="1.3" fill="#1f4fe6"/>
<circle cx="86.48" cy="100.74" r="1.3" fill="#1f4fe6"/>
<circle cx="90.57" cy="88.44" r="1.3" fill="#1f4fe6"/>
<circle cx="94.66" cy="81.42" r="1.3" fill="#1f4fe6"/>
<circle cx="98.74" cy="76.80" r="1.3" fill="#1f4fe6"/>
<circle cx="102.83" cy="73.36" r="1.3" fill="#1f4fe6"/>
<circle cx="106.92" cy="71.37" r="1.3" fill="#1f4fe6"/>
<circle cx="111.01" cy="68.20" r="1.3" fill="#1f4fe6"/>
<circle cx="115.10" cy="64.49" r="1.3" fill="#1f4fe6"/>
<circle cx="119.18" cy="60.00" r="1.3" fill="#1f4fe6"/>
<circle cx="123.27" cy="56.82" r="1.3" fill="#1f4fe6"/>
<circle cx="127.36" cy="53.78" r="1.3" fill="#1f4fe6"/>
<circle cx="131.45" cy="53.78" r="1.3" fill="#1f4fe6"/>
<circle cx="135.54" cy="53.38" r="1.3" fill="#1f4fe6"/>
<circle cx="139.62" cy="52.19" r="1.3" fill="#1f4fe6"/>
<circle cx="143.71" cy="50.34" r="1.3" fill="#1f4fe6"/>
<circle cx="147.80" cy="49.41" r="1.3" fill="#1f4fe6"/>
<circle cx="151.89" cy="49.81" r="1.3" fill="#1f4fe6"/>
<circle cx="155.98" cy="50.60" r="1.3" fill="#1f4fe6"/>
<circle cx="160.06" cy="50.74" r="1.3" fill="#1f4fe6"/>
<circle cx="164.15" cy="51.40" r="1.3" fill="#1f4fe6"/>
<circle cx="168.24" cy="51.79" r="1.3" fill="#1f4fe6"/>
<circle cx="172.33" cy="52.06" r="1.3" fill="#1f4fe6"/>
<circle cx="176.42" cy="51.79" r="1.3" fill="#1f4fe6"/>
<circle cx="180.50" cy="51.40" r="1.3" fill="#1f4fe6"/>
<circle cx="184.59" cy="50.60" r="1.3" fill="#1f4fe6"/>
<circle cx="188.68" cy="50.21" r="1.3" fill="#1f4fe6"/>
<circle cx="192.77" cy="49.81" r="1.3" fill="#1f4fe6"/>
<circle cx="196.86" cy="49.41" r="1.3" fill="#1f4fe6"/>
<circle cx="200.94" cy="48.75" r="1.3" fill="#1f4fe6"/>
<circle cx="205.03" cy="48.49" r="1.3" fill="#1f4fe6"/>
<circle cx="209.12" cy="48.22" r="1.3" fill="#1f4fe6"/>
<circle cx="213.21" cy="47.83" r="1.3" fill="#1f4fe6"/>
<line x1="384.5" y1="128.00" x2="404.5" y2="128.00" stroke="#3f6ff0" stroke-width="1" opacity="0.8"/>
<circle cx="394.60" cy="128.00" r="2.4" fill="#1f4fe6"/>
<text x="406.8" y="131.00" class="lg" textLength="32.46" lengthAdjust="spacingAndGlyphs">lower100</text>
<line x1="384.5" y1="142.20" x2="404.5" y2="142.20" stroke="#3f6ff0" stroke-width="1" opacity="0.8"/>
<path d="M394.60 139.68L397.12 142.20L394.60 144.72L392.08 142.20Z" fill="#1f4fe6"/>
<text x="406.8" y="145.20" class="lg" textLength="26.24" lengthAdjust="spacingAndGlyphs">mid100</text>
<line x1="384.5" y1="156.40" x2="404.5" y2="156.40" stroke="#3f6ff0" stroke-width="1" opacity="0.8"/>
<path d="M392.08 154.30L397.12 154.30L394.60 158.71Z" fill="#1f4fe6"/>
<text x="406.8" y="159.40" class="lg" textLength="33.81" lengthAdjust="spacingAndGlyphs">upper100</text>
<line x1="384.5" y1="170.60" x2="404.5" y2="170.60" stroke="#ee3048" stroke-width="1" opacity="0.8"/>
<path d="M392.08 172.70L397.12 172.70L394.60 168.29Z" fill="#e0142e"/>
<text x="406.8" y="173.60" class="lg" textLength="32.46" lengthAdjust="spacingAndGlyphs">lower266</text>
<line x1="384.5" y1="184.80" x2="404.5" y2="184.80" stroke="#ee3048" stroke-width="1" opacity="0.8"/>
<rect x="392.50" y="182.70" width="4.20" height="4.20" fill="#e0142e"/>
<text x="406.8" y="187.80" class="lg" textLength="26.24" lengthAdjust="spacingAndGlyphs">mid266</text>
<line x1="384.5" y1="199.00" x2="404.5" y2="199.00" stroke="#ee3048" stroke-width="1" opacity="0.8"/>
<circle cx="394.60" cy="199.00" r="2.4" fill="#e0142e"/>
<text x="406.8" y="202.00" class="lg" textLength="33.81" lengthAdjust="spacingAndGlyphs">upper266</text>
<text x="231.4" y="61.4" class="big" textLength="34.07" lengthAdjust="spacingAndGlyphs">t = 41 s</text>
<text x="412.3" y="21.7" class="big" textLength="39.8" lengthAdjust="spacingAndGlyphs">t = 100 s</text>
<text x="219.3" y="249.8" class="ax">Process time (s)</text>
<text x="11.8" y="249.7" class="big2">(a)</text>
<text transform="translate(19.6,173.2) rotate(-90)" class="ax" style="font-size:8.8px" textLength="105.8" lengthAdjust="spacingAndGlyphs">BTBAS Partial Pressure (pa)</text>
<line x1="51.5" y1="278.5" x2="51.5" y2="519.6" stroke="#d9d9d9" stroke-width="1"/>
<line x1="51.5" y1="519.6" x2="456" y2="519.6" stroke="#d9d9d9" stroke-width="1"/>
<line x1="51.5" y1="519.60" x2="55.5" y2="519.60" stroke="#d9d9d9" stroke-width="1"/>
<text x="49.8" y="523.00" class="tkb" text-anchor="end" textLength="4.45" lengthAdjust="spacingAndGlyphs">0</text>
<line x1="51.5" y1="492.83" x2="55.5" y2="492.83" stroke="#d9d9d9" stroke-width="1"/>
<text x="49.8" y="496.23" class="tkb" text-anchor="end" textLength="22.25" lengthAdjust="spacingAndGlyphs">10000</text>
<line x1="51.5" y1="466.06" x2="55.5" y2="466.06" stroke="#d9d9d9" stroke-width="1"/>
<text x="49.8" y="469.46" class="tkb" text-anchor="end" textLength="22.25" lengthAdjust="spacingAndGlyphs">20000</text>
<line x1="51.5" y1="439.29" x2="55.5" y2="439.29" stroke="#d9d9d9" stroke-width="1"/>
<text x="49.8" y="442.69" class="tkb" text-anchor="end" textLength="22.25" lengthAdjust="spacingAndGlyphs">30000</text>
<line x1="51.5" y1="412.52" x2="55.5" y2="412.52" stroke="#d9d9d9" stroke-width="1"/>
<text x="49.8" y="415.92" class="tkb" text-anchor="end" textLength="22.25" lengthAdjust="spacingAndGlyphs">40000</text>
<line x1="51.5" y1="385.75" x2="55.5" y2="385.75" stroke="#d9d9d9" stroke-width="1"/>
<text x="49.8" y="389.15" class="tkb" text-anchor="end" textLength="22.25" lengthAdjust="spacingAndGlyphs">50000</text>
<line x1="51.5" y1="358.98" x2="55.5" y2="358.98" stroke="#d9d9d9" stroke-width="1"/>
<text x="49.8" y="362.38" class="tkb" text-anchor="end" textLength="22.25" lengthAdjust="spacingAndGlyphs">60000</text>
<line x1="51.5" y1="332.21" x2="55.5" y2="332.21" stroke="#d9d9d9" stroke-width="1"/>
<text x="49.8" y="335.61" class="tkb" text-anchor="end" textLength="22.25" lengthAdjust="spacingAndGlyphs">70000</text>
<line x1="51.5" y1="305.44" x2="55.5" y2="305.44" stroke="#d9d9d9" stroke-width="1"/>
<text x="49.8" y="308.84" class="tkb" text-anchor="end" textLength="22.25" lengthAdjust="spacingAndGlyphs">80000</text>
<line x1="51.5" y1="278.67" x2="55.5" y2="278.67" stroke="#d9d9d9" stroke-width="1"/>
<text x="49.8" y="282.07" class="tkb" text-anchor="end" textLength="22.25" lengthAdjust="spacingAndGlyphs">90000</text>
<line x1="52.00" y1="519.6" x2="52.00" y2="516.6" stroke="#d9d9d9" stroke-width="1"/>
<text x="52.00" y="529.7" class="tk" text-anchor="middle" textLength="4.45" lengthAdjust="spacingAndGlyphs">0</text>
<line x1="92.37" y1="519.6" x2="92.37" y2="516.6" stroke="#d9d9d9" stroke-width="1"/>
<text x="92.37" y="529.7" class="tk" text-anchor="middle" textLength="8.90" lengthAdjust="spacingAndGlyphs">10</text>
<line x1="132.74" y1="519.6" x2="132.74" y2="516.6" stroke="#d9d9d9" stroke-width="1"/>
<text x="132.74" y="529.7" class="tk" text-anchor="middle" textLength="8.90" lengthAdjust="spacingAndGlyphs">20</text>
<line x1="173.11" y1="519.6" x2="173.11" y2="516.6" stroke="#d9d9d9" stroke-width="1"/>
<text x="173.11" y="529.7" class="tk" text-anchor="middle" textLength="8.90" lengthAdjust="spacingAndGlyphs">30</text>
<line x1="213.48" y1="519.6" x2="213.48" y2="516.6" stroke="#d9d9d9" stroke-width="1"/>
<text x="213.48" y="529.7" class="tk" text-anchor="middle" textLength="8.90" lengthAdjust="spacingAndGlyphs">40</text>
<line x1="253.85" y1="519.6" x2="253.85" y2="516.6" stroke="#d9d9d9" stroke-width="1"/>
<text x="253.85" y="529.7" class="tk" text-anchor="middle" textLength="8.90" lengthAdjust="spacingAndGlyphs">50</text>
<line x1="294.22" y1="519.6" x2="294.22" y2="516.6" stroke="#d9d9d9" stroke-width="1"/>
<text x="294.22" y="529.7" class="tk" text-anchor="middle" textLength="8.90" lengthAdjust="spacingAndGlyphs">60</text>
<line x1="334.59" y1="519.6" x2="334.59" y2="516.6" stroke="#d9d9d9" stroke-width="1"/>
<text x="334.59" y="529.7" class="tk" text-anchor="middle" textLength="8.90" lengthAdjust="spacingAndGlyphs">70</text>
<line x1="374.96" y1="519.6" x2="374.96" y2="516.6" stroke="#d9d9d9" stroke-width="1"/>
<text x="374.96" y="529.7" class="tk" text-anchor="middle" textLength="8.90" lengthAdjust="spacingAndGlyphs">80</text>
<line x1="415.33" y1="519.6" x2="415.33" y2="516.6" stroke="#d9d9d9" stroke-width="1"/>
<text x="415.33" y="529.7" class="tk" text-anchor="middle" textLength="8.90" lengthAdjust="spacingAndGlyphs">90</text>
<line x1="455.70" y1="519.6" x2="455.70" y2="516.6" stroke="#d9d9d9" stroke-width="1"/>
<text x="455.70" y="529.7" class="tk" text-anchor="middle" textLength="13.35" lengthAdjust="spacingAndGlyphs">100</text>
<line x1="215" y1="278.7" x2="215" y2="519.6" stroke="#cfcfcf" stroke-width="1"/>
<line x1="455.8" y1="278.7" x2="455.8" y2="519.6" stroke="#cfcfcf" stroke-width="1"/>
<polyline points="52.00,519.60 228.50,519.60 231.00,517.00 236.60,511.30 241.50,505.50 246.80,499.60 251.90,489.50 256.30,477.80 261.40,466.20 267.20,453.10 273.00,440.00 276.50,432.40 282.10,421.30 287.60,411.60 293.10,400.50 298.70,392.00 305.60,376.70 312.50,368.40 319.50,360.90 326.40,354.50 333.30,346.20 338.30,343.40 342.50,336.50 346.60,328.80 350.80,324.00 354.90,315.70 359.10,311.00 363.30,307.40 368.80,299.10 374.30,291.60 378.50,290.00 440.90,278.70 455.70,278.70" fill="none" stroke="#ea4358" stroke-width="1.1"/>
<polyline points="52.00,519.60 63.00,519.60 65.50,517.00 68.90,510.80 73.60,496.70 80.70,469.50 87.80,439.90 97.30,397.70 109.10,348.00 120.90,305.50 125.00,290.00 127.50,278.90" fill="none" stroke="#2597d9" stroke-width="1.1"/>
<polyline points="52.00,519.60 145.40,519.60 150.10,513.10 152.40,503.70 156.00,484.80 159.50,442.20 161.90,416.30 164.30,395.00 165.40,376.30 167.80,355.00 170.20,340.90 173.70,326.70 177.20,319.60 182.00,312.00 185.50,309.00 187.90,304.30 192.60,297.20 196.10,292.40 199.00,287.00 200.90,286.10 215.00,286.10" fill="none" stroke="#2597d9" stroke-width="1.1"/>
<polyline points="52.00,519.60 72.50,519.60 73.90,519.30 77.50,516.00 81.20,511.30 87.10,498.80 92.80,480.70 95.20,470.90 97.20,464.70 99.50,452.00 103.00,438.50 106.90,420.00 110.30,403.00 113.70,388.00 119.50,363.30 124.60,342.00 129.50,319.50 134.00,301.70 140.40,278.90" fill="none" stroke="#2597d9" stroke-width="1.1" stroke-dasharray="1 1"/>
<polyline points="52.00,519.60 154.80,519.60 157.20,506.00 160.70,473.00 164.30,442.20 167.80,409.20 169.40,395.40 171.90,370.80 174.30,354.50 177.60,343.00 182.50,330.00 189.10,311.30 195.00,299.50 200.90,287.70 207.50,278.70 215.00,278.70" fill="none" stroke="#2597d9" stroke-width="1.1" stroke-dasharray="1 1"/>
<polyline points="52.00,519.60 73.60,519.60 75.40,518.50 79.50,515.00 84.10,509.80 90.80,499.30 95.00,491.00 99.00,481.00 105.20,461.50 111.20,441.80 118.30,419.60 123.90,395.30 129.70,373.50 134.10,357.50 137.40,342.00 141.00,324.60 144.80,308.10 148.60,292.80 152.50,280.10 153.00,278.90" fill="none" stroke="#ea4358" stroke-width="1.1" stroke-dasharray="1 1"/>
<polyline points="52.00,519.60 255.00,519.20 263.50,518.40 272.10,515.90 278.00,513.70 281.40,510.00 285.70,504.00 290.00,498.00 294.20,491.20 297.60,486.10 301.10,479.20 304.50,471.60 307.90,463.90 311.30,455.40 314.70,446.80 317.80,440.00 320.90,430.50 323.60,424.00 325.10,420.00 331.60,401.10 336.50,389.00 341.90,377.50 349.10,361.80 354.10,350.00 359.10,339.10 363.60,328.20 368.20,317.30 371.80,310.90 375.20,303.90 378.60,297.00 383.30,288.90 386.30,283.80 390.20,278.90" fill="none" stroke="#ea4358" stroke-width="1.1" stroke-dasharray="1 1"/>
<polyline points="52.00,519.60 55.70,519.40 58.00,517.50 60.80,512.70 65.20,501.10 69.50,483.60 73.90,467.60 79.70,440.00 83.10,424.60 88.30,395.00 92.60,374.00 96.40,354.50 99.80,337.50 103.20,320.50 106.80,300.00 110.20,284.00 112.30,278.80 455.70,278.80" fill="none" stroke="#ea4358" stroke-width="1.1"/>
<line x1="353.5" y1="413.00" x2="381.5" y2="413.00" stroke="#cce6f6" stroke-width="1"/>
<text x="385.6" y="416.30" class="bl" textLength="48.68" lengthAdjust="spacingAndGlyphs">100 Pa, Side</text>
<line x1="353.5" y1="431.80" x2="381.5" y2="431.80" stroke="#d8ebf7" stroke-width="1" stroke-dasharray="1 1.2"/>
<text x="385.6" y="435.10" class="bl" textLength="57.18" lengthAdjust="spacingAndGlyphs">100 Pa, Center</text>
<line x1="353.5" y1="453.30" x2="381.5" y2="453.30" stroke="#f8c0c8" stroke-width="1"/>
<text x="385.6" y="456.60" class="bl" textLength="48.68" lengthAdjust="spacingAndGlyphs">266 Pa, Side</text>
<line x1="353.5" y1="474.90" x2="381.5" y2="474.90" stroke="#f8d3d8" stroke-width="1" stroke-dasharray="1 1.2"/>
<text x="385.6" y="478.20" class="bl" textLength="57.18" lengthAdjust="spacingAndGlyphs">266 Pa, Center</text>
<line x1="353.5" y1="493.50" x2="381.5" y2="493.50" stroke="#d2d2d2" stroke-width="1"/>
<text x="385.6" y="496.80" class="bl" textLength="68.98" lengthAdjust="spacingAndGlyphs">Finishing Indicator</text>
<text x="231.8" y="306.9" class="big" textLength="34.07" lengthAdjust="spacingAndGlyphs">t = 41 s</text>
<text x="412.4" y="307.4" class="big" textLength="39.8" lengthAdjust="spacingAndGlyphs">t = 100 s</text>
<text x="214.1" y="544.6" class="ax">Process time (s)</text>
<text x="11.9" y="544.8" class="big2">(b)</text>
<text transform="translate(14.4,439.2) rotate(-90)" class="ax" textLength="57.7" lengthAdjust="spacingAndGlyphs">Film coverage</text>
</svg>
</body></html>
